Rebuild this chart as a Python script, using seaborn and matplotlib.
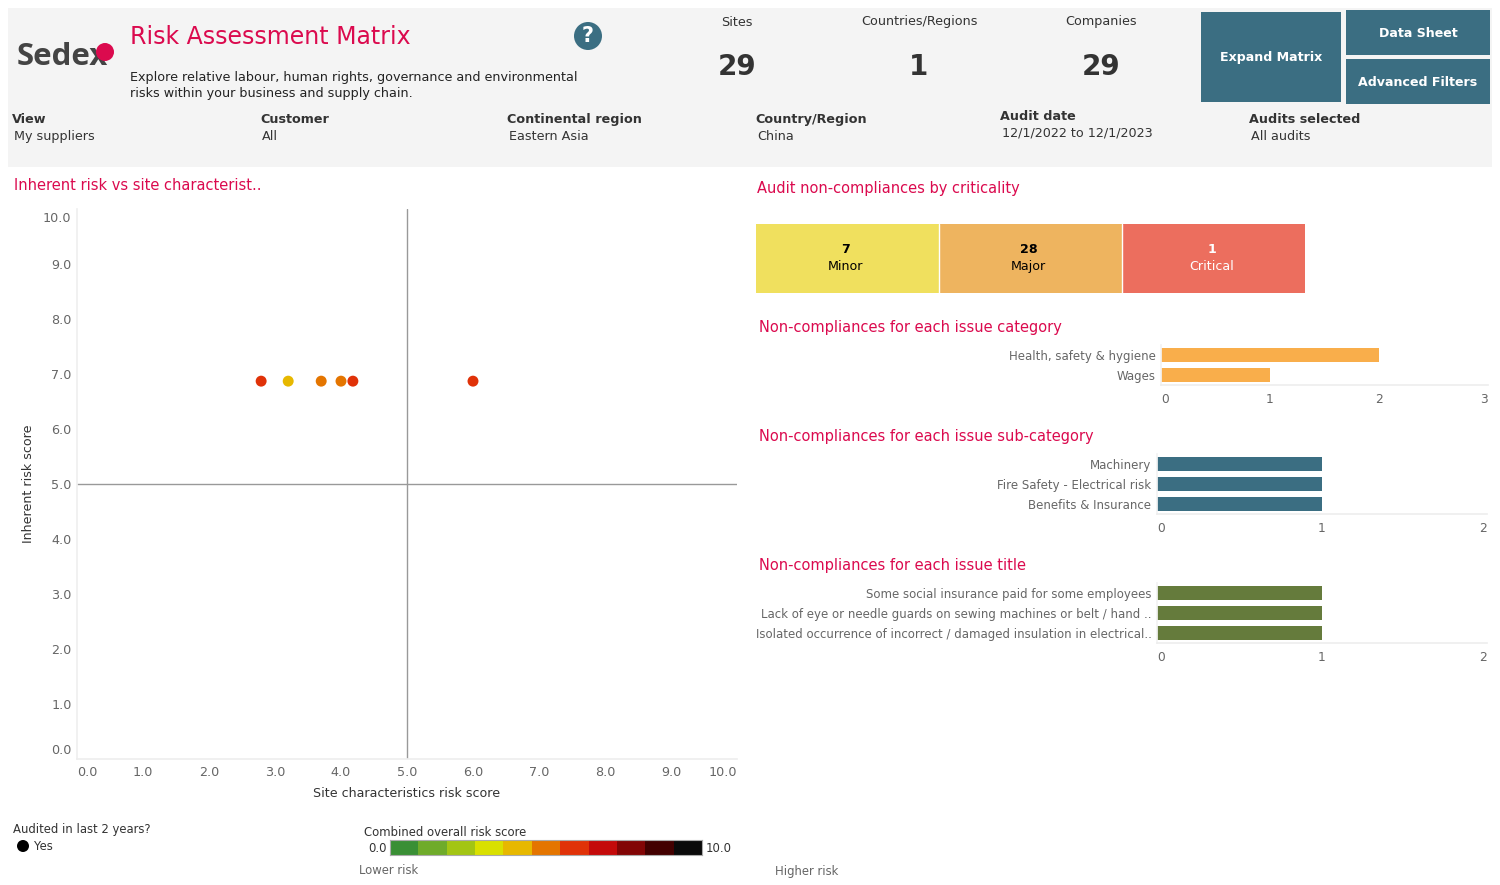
import numpy as np
import pandas as pd
import matplotlib
matplotlib.use("Agg")
import matplotlib.pyplot as plt
import seaborn as sns
from matplotlib.colors import ListedColormap
from matplotlib.patches import Circle, Rectangle
from matplotlib.transforms import ScaledTranslation

W, H = 1500, 885

PINK = "#DB0A4E"
TEAL = "#3B6E82"
DARK = "#333333"
GREY = "#666666"

# scatter values
site_scores = [2.79, 3.2, 3.7, 4.0, 4.18, 6.0]
inherent_scores = [6.87, 6.87, 6.87, 6.87, 6.87, 6.87]
risk_bands = [6, 4, 5, 5, 6, 6]
score_ticks = [0, 1, 2, 3, 4, 5, 6, 7, 8, 9, 10]

band_colors = ["#3A8F35", "#6FAB2A", "#A3C514", "#D9E000", "#E7B800", "#E47500",
               "#E03208", "#C40A0A", "#820505", "#420000", "#0A0A0A"]

# criticality cells
crit_names = ["Minor", "Major", "Critical"]
crit_counts = [7, 28, 1]
crit_colors = ["#F0E05E", "#EEB45F", "#EC6E5E"]
crit_text = ["black", "black", "white"]

# bar panels
cat_names = ["Health, safety & hygiene", "Wages"]
cat_values = [2, 1]
sub_names = ["Machinery", "Fire Safety - Electrical risk", "Benefits & Insurance"]
sub_values = [1, 1, 1]
title_names = ["Some social insurance paid for some employees",
               "Lack of eye or needle guards on sewing machines or belt / hand ..",
               "Isolated occurrence of incorrect / damaged insulation in electrical.."]
title_values = [1, 1, 1]

# header texts
kpi_names = ["Sites", "Countries/Regions", "Companies"]
kpi_values = [29, 1, 29]
filter_names = ["View", "Customer", "Continental region", "Country/Region", "Audit date", "Audits selected"]
filter_values = ["My suppliers", "All", "Eastern Asia", "China", "12/1/2022 to 12/1/2023", "All audits"]

sns.set_theme(style="white")
plt.rcParams["font.family"] = ["DejaVu Sans"]


def px_axes(fig, x0, y0, x1, y1):
    # axes from pixel box, y measured from top
    return fig.add_axes([x0 / W, 1 - y1 / H, (x1 - x0) / W, (y1 - y0) / H])


def draw_bars(fig, box, names, values, color, xmax):
    ax = px_axes(fig, *box)
    df = pd.DataFrame({"name": names, "value": values})
    sns.barplot(data=df, x="value", y="name", orient="h", color=color,
                width=0.72, saturation=1, linewidth=0, ax=ax)
    ax.set_xlim(0, xmax)
    ax.set_xticks(range(xmax + 1))
    ax.set_xlabel("")
    ax.set_ylabel("")
    ax.tick_params(axis="x", labelsize=8.8, labelcolor=GREY, length=0, pad=5.5)
    ax.tick_params(axis="y", labelsize=8.45, labelcolor=GREY, length=0, pad=4)
    labels = ax.get_xticklabels()
    labels[0].set_ha("left")
    labels[-1].set_ha("right")
    sns.despine(ax=ax, top=True, right=True)
    ax.spines["left"].set_color("#F3F3F3")
    ax.spines["bottom"].set_color("#EEEEEE")
    return ax


fig = plt.figure(figsize=(W / 100, H / 100), dpi=100)

# page layer in pixel coordinates
page = fig.add_axes([0, 0, 1, 1], zorder=0)
page.set_xlim(0, W)
page.set_ylim(H, 0)
page.axis("off")

page.add_patch(Rectangle((8, 8), 1484, 159, color="#F4F4F4", lw=0))

# logo
page.text(17, 57, "Sedex", fontsize=22.5, color="#444444", family="Open Sans",
          weight="bold", va="center", ha="left")
page.add_patch(Circle((105, 52), 9, color=PINK, lw=0, zorder=5))

page.text(130, 37, "Risk Assessment Matrix", fontsize=17, color=PINK, va="center")
page.text(130, 77, "Explore relative labour, human rights, governance and environmental",
          fontsize=9.2, color="#222222", va="center")
page.text(130, 94, "risks within your business and supply chain.",
          fontsize=9.2, color="#222222", va="center")

page.add_patch(Circle((588, 36), 14, color=TEAL, lw=0))
page.text(588, 36, "?", fontsize=15, color="white", weight="bold", ha="center", va="center")

for cx, name, val in zip([737, 919, 1101], kpi_names, kpi_values):
    page.text(cx, 22, name, fontsize=9.2, color=DARK, ha="center", va="center")
    page.text(cx, 67, str(val), fontsize=20, color=DARK, weight="bold", ha="center", va="center")

buttons = [(1201, 12, 140, 90, "Expand Matrix"),
           (1346, 10, 144, 45, "Data Sheet"),
           (1346, 59, 144, 45, "Advanced Filters")]
for bx, by, bw, bh, label in buttons:
    page.add_patch(Rectangle((bx, by), bw, bh, color=TEAL, lw=0))
    page.text(bx + bw / 2, by + bh / 2 + 1, label, fontsize=9.05, color="white",
              weight="bold", ha="center", va="center")

filter_x = [12, 260, 507, 755, 1000, 1249]
filter_y = [119.5, 119.5, 119.5, 119.5, 116.5, 119.5]
for fx, fy, name, val in zip(filter_x, filter_y, filter_names, filter_values):
    page.text(fx, fy, name, fontsize=9.2, color=DARK, weight="bold", va="center")
    page.text(fx + 2, fy + 17, val, fontsize=9.15, color=DARK, va="center")

panel_titles = [(14, 186, "Inherent risk vs site characterist.."),
                (757, 188, "Audit non-compliances by criticality"),
                (759, 327.5, "Non-compliances for each issue category"),
                (759, 436.5, "Non-compliances for each issue sub-category"),
                (759, 565.5, "Non-compliances for each issue title")]
for tx, ty, label in panel_titles:
    page.text(tx, ty, label, fontsize=10.5, color=PINK, va="center")

# scatter
ax = px_axes(fig, 77, 209, 737, 759)
scatter_df = pd.DataFrame({"site": site_scores, "inherent": inherent_scores, "band": risk_bands})
sns.scatterplot(data=scatter_df, x="site", y="inherent", hue="band",
                palette={b: band_colors[b] for b in set(risk_bands)},
                s=62, linewidth=0, legend=False, ax=ax, zorder=3, clip_on=False)
ax.set_xlim(0, 10)
ax.set_ylim(0, 10)
ax.axvline(5, color="#999999", lw=1.0, zorder=1)
ax.axhline(5, color="#999999", lw=1.0, zorder=1)
ax.set_xticks(score_ticks)
ax.set_yticks(score_ticks)
ax.set_xticklabels([f"{t:.1f}" for t in score_ticks])
ax.set_yticklabels([f"{t:.1f}" for t in score_ticks])
ax.tick_params(axis="both", labelsize=9.2, labelcolor=GREY, length=0)
ax.tick_params(axis="x", pad=5)
ax.tick_params(axis="y", pad=4)
ax.get_xticklabels()[0].set_ha("left")
ax.get_xticklabels()[-1].set_ha("right")
# end labels sit inside the plot box
y_labels = ax.get_yticklabels()
y_labels[0].set_transform(y_labels[0].get_transform() + ScaledTranslation(0, 10 / 100, fig.dpi_scale_trans))
y_labels[-1].set_transform(y_labels[-1].get_transform() + ScaledTranslation(0, -8 / 100, fig.dpi_scale_trans))
ax.set_xlabel("Site characteristics risk score", fontsize=9.1, color=DARK, labelpad=6)
ax.set_ylabel("Inherent risk score", fontsize=9.1, color=DARK, labelpad=6)
sns.despine(ax=ax, top=True, right=True)
ax.spines["left"].set_color("#F0F0F0")
ax.spines["bottom"].set_color("#EEEEEE")

# criticality cells
ax = px_axes(fig, 756, 224, 1305, 293)
sns.heatmap(np.arange(3).reshape(1, 3), cmap=ListedColormap(crit_colors), cbar=False,
            xticklabels=False, yticklabels=False, ax=ax)
ax.axvline(1, color="white", lw=1)
ax.axvline(2, color="white", lw=1)
for i, (name, count, tc) in enumerate(zip(crit_names, crit_counts, crit_text)):
    ax.text(i + 0.49, 0.37, str(count), fontsize=9.1, weight="bold", color=tc, ha="center", va="center")
    ax.text(i + 0.49, 0.61, name, fontsize=9.1, color=tc, ha="center", va="center")

# bar panels
draw_bars(fig, (1161, 345, 1488, 385), cat_names, cat_values, "#F9AE4B", 3)
draw_bars(fig, (1157, 454, 1487, 514), sub_names, sub_values, TEAL, 2)
draw_bars(fig, (1157, 583, 1487, 643), title_names, title_values, "#657B3C", 2)

# legends
page.text(13, 830, "Audited in last 2 years?", fontsize=8.4, color=DARK, va="center")
page.add_patch(Circle((23, 846), 6, color="black", lw=0))
page.text(34, 846, "Yes", fontsize=8.4, color=DARK, va="center")

page.text(364, 832, "Combined overall risk score", fontsize=8.4, color=DARK, va="center")
page.text(387, 848, "0.0", fontsize=8.4, color=DARK, ha="right", va="center")
page.text(706, 848, "10.0", fontsize=8.4, color=DARK, va="center")
page.text(359, 871, "Lower risk", fontsize=8.4, color=GREY, va="center")
page.text(775, 872, "Higher risk", fontsize=8.4, color=GREY, va="center")

ax = px_axes(fig, 390, 840, 702, 855)
sns.heatmap(np.arange(len(band_colors)).reshape(1, -1), cmap=ListedColormap(band_colors),
            cbar=False, xticklabels=False, yticklabels=False, ax=ax)
for spine in ax.spines.values():
    spine.set_visible(True)
    spine.set_color("#AAAAAA")
    spine.set_linewidth(0.8)

fig.savefig("out.png", dpi=100)
